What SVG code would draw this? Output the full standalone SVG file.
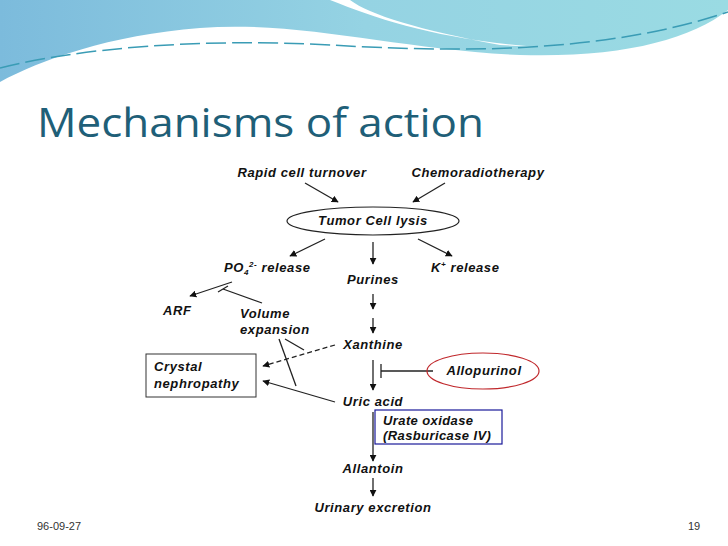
<svg xmlns="http://www.w3.org/2000/svg" width="728" height="546" viewBox="0 0 728 546">
<defs>
<linearGradient id="g1" x1="0" y1="0" x2="1" y2="0"><stop offset="0" stop-color="#7cbbdc"/><stop offset="0.5" stop-color="#95d3e3"/><stop offset="1" stop-color="#9adbe3"/></linearGradient>
<marker id="ah" viewBox="0 0 10 10" refX="9" refY="5" markerWidth="7" markerHeight="7" orient="auto" markerUnits="userSpaceOnUse"><path d="M0,0 L10,5 L0,10 z" fill="#111"/></marker>
<style>
text{font-family:"Liberation Sans",Arial,sans-serif}
.t{font-size:13px;font-weight:bold;font-style:italic;fill:#111;text-anchor:middle;letter-spacing:0.6px}
.l{font-size:13px;font-weight:bold;font-style:italic;fill:#111;letter-spacing:0.6px}
.c{stroke:#222;stroke-width:1.3;fill:none}
.a{stroke:#222;stroke-width:1.3;fill:none;marker-end:url(#ah)}
</style>
</defs>
<rect width="728" height="546" fill="#fff"/>
<g id="header">
<path d="M0,0 H728 V10 C690,40 620,58 520,55 C400,50 300,20 200,28 C110,35 40,60 0,82 Z" fill="url(#g1)"/>
<path d="M330,0 C380,20 440,40 540,47 L500,45 C420,30 370,15 350,0 Z" fill="#fff"/>
<path d="M0,68 C80,48 200,38 330,45 C450,52 600,55 728,12" stroke="#3a9cb5" stroke-width="1.5" fill="none" stroke-dasharray="20,6"/>
</g>
<text x="37" y="137" font-size="41" fill="#1f5f78" textLength="447" lengthAdjust="spacingAndGlyphs" style="font-family:'Open Sans',sans-serif">Mechanisms of action</text>
<g id="connectors">
<line class="a" x1="305" y1="183" x2="338" y2="202"/>
<line class="a" x1="445" y1="183" x2="413" y2="202"/>
<line class="a" x1="325" y1="239" x2="290" y2="256"/>
<line class="a" x1="373" y1="242" x2="373" y2="264"/>
<line class="a" x1="418" y1="239" x2="452" y2="256"/>
<line class="a" x1="232" y1="282" x2="190" y2="296"/>
<line class="c" x1="262" y1="303" x2="223" y2="289"/>
<line class="c" x1="218" y1="292" x2="228" y2="286"/>
<line class="a" x1="373" y1="294" x2="373" y2="309"/>
<line class="a" x1="373" y1="318" x2="373" y2="333"/>
<line class="c" x1="279" y1="339" x2="296" y2="386"/>
<line class="c" x1="285" y1="339" x2="304" y2="350"/>
<line class="a" x1="335" y1="345" x2="263" y2="366" stroke-dasharray="5,3"/>
<line class="a" x1="335" y1="402" x2="263" y2="381"/>
<line class="a" x1="373" y1="360" x2="373" y2="390"/>
<line class="c" x1="433" y1="371" x2="381" y2="371"/>
<line class="c" x1="381" y1="364" x2="381" y2="378"/>
<line class="a" x1="373" y1="412" x2="373" y2="461"/>
<line class="a" x1="373" y1="478" x2="373" y2="496"/>
</g>
<g id="rapid"><text class="t" x="302" y="177">Rapid cell turnover</text></g>
<g id="chemo"><text class="t" x="478" y="177">Chemoradiotherapy</text></g>
<g id="lysis"><ellipse cx="373" cy="221" rx="86" ry="14" fill="none" stroke="#222" stroke-width="1.2"/><text class="t" x="373" y="225">Tumor Cell lysis</text></g>
<g id="po4"><text class="l" x="224" y="272">PO<tspan font-size="8" dy="3">4</tspan><tspan font-size="8" dy="-8">2-</tspan><tspan dy="5"> release</tspan></text></g>
<g id="purines"><text class="t" x="373" y="284">Purines</text></g>
<g id="k"><text class="l" x="431" y="272">K<tspan font-size="8" dy="-5">+</tspan><tspan dy="5"> release</tspan></text></g>
<g id="arf"><text class="l" x="163" y="315">ARF</text></g>
<g id="volume"><text class="l" x="240" y="318">Volume</text><text class="l" x="240" y="334">expansion</text></g>
<g id="xanthine"><text class="t" x="373" y="349">Xanthine</text></g>
<g id="crystal"><rect x="146" y="354" width="110" height="43" fill="none" stroke="#333" stroke-width="1"/><text class="l" x="154" y="371">Crystal</text><text class="l" x="154" y="388">nephropathy</text></g>
<g id="allopurinol"><ellipse cx="483" cy="371" rx="56" ry="18" fill="none" stroke="#c0282c" stroke-width="1.2"/><text class="t" x="484" y="375">Allopurinol</text></g>
<g id="uric"><text class="t" x="373" y="406">Uric acid</text></g>
<g id="urate"><rect x="375" y="410" width="127" height="34" fill="none" stroke="#1a1a9a" stroke-width="1.2"/><text class="l" x="383" y="425" font-size="11" style="letter-spacing:0.4px">Urate oxidase</text><text class="l" x="383" y="440" font-size="11" style="letter-spacing:0.4px">(Rasburicase IV)</text></g>
<g id="allantoin"><text class="t" x="373" y="473">Allantoin</text></g>
<g id="urinary"><text class="t" x="373" y="512">Urinary excretion</text></g>
<text x="37" y="530" font-size="11" fill="#333">96-09-27</text>
<text x="688" y="530" font-size="11" fill="#333">19</text>
</svg>
